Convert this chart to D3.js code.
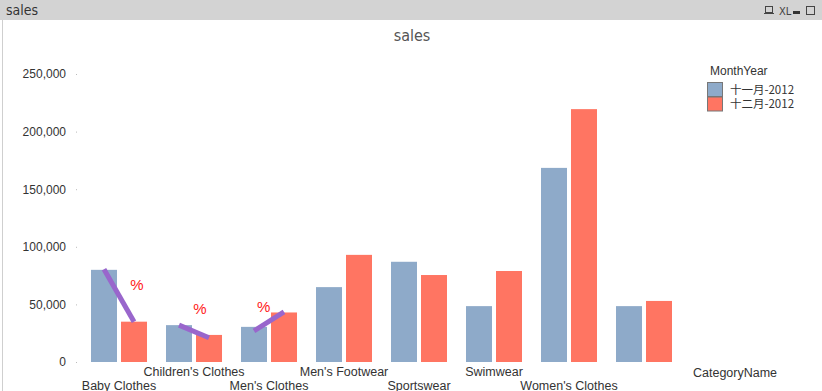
<!DOCTYPE html>
<html><head><meta charset="utf-8">
<script src="https://cdn.jsdelivr.net/npm/d3@7"></script>
<style>
html,body{margin:0;padding:0;background:#fff;}
svg text{font-family:"Liberation Sans",Arial,sans-serif;}
</style>
</head><body>
<svg id="c" width="822" height="391"></svg>
<script>
const categories = ["Baby Clothes","Children's Clothes","Men's Clothes","Men's Footwear","Sportswear","Swimwear","Women's Clothes",""];
const seriesNames = ["十一月-2012","十二月-2012"];
const novSales = [80000,32000,30500,65000,87000,48500,168500,48500];
const decSales = [35000,23500,43000,93000,75500,79000,219500,53000];
const yTicks = [0,50000,100000,150000,200000,250000];
const pctCategories = ["Baby Clothes","Children's Clothes","Men's Clothes"];
const pctLineStart = [80500,32000,27000];
const pctLineEnd = [35000,21000,43500];
const pctLabelValue = [62500,41500,43500];
const pctLabelBandPos = [0.74,0.58,0.43];

const colors = ["#8eaac9","#ff7562"];
const svg = d3.select("#c");
const W = 822, H = 391;

// window frame
svg.append("rect").attr("x",0).attr("y",0).attr("width",W).attr("height",20).attr("fill","#d3d3d3");
svg.append("line").attr("x1",2.5).attr("x2",2.5).attr("y1",20).attr("y2",H).attr("stroke","#cfcfcf");
svg.append("text").attr("x",6).attr("y",15).attr("font-size",14).attr("fill","#333")
  .style("font-family","'DejaVu Sans Condensed','Liberation Sans',sans-serif").text("sales");
// icons
const ic = svg.append("g").attr("fill","none").attr("stroke","#444");
ic.append("rect").attr("x",765.5).attr("y",6.5).attr("width",7).attr("height",6);
ic.append("line").attr("x1",764).attr("x2",774).attr("y1",13.5).attr("y2",13.5);
svg.append("text").attr("x",779).attr("y",15).attr("font-size",11).attr("fill","#444")
  .style("font-family","'DejaVu Sans Condensed',sans-serif").text("XL");
svg.append("rect").attr("x",793).attr("y",11).attr("width",7).attr("height",3).attr("fill","#333");
ic.append("rect").attr("x",806.5).attr("y",6.5).attr("width",8).attr("height",8);

// title
svg.append("text").attr("x",412).attr("y",41).attr("text-anchor","middle").attr("font-size",16)
  .attr("fill","#555").style("font-family","'DejaVu Sans Condensed','Liberation Sans',sans-serif").text("sales");

// scales
const y = d3.scaleLinear().domain([0,250000]).range([362,74]);
const x0 = d3.scaleBand().domain(categories).range([81.5,681.5]).paddingInner(0.2533).paddingOuter(0.1267);
const x1 = d3.scaleBand().domain(seriesNames).range([0,x0.bandwidth()]).paddingInner(0.1333);

// y axis
const yAxis = d3.axisLeft(y).tickValues(yTicks).tickSize(1).tickPadding(10).tickFormat(d3.format(","));
const ya = svg.append("g").attr("transform","translate(77,0)").call(yAxis);
ya.select(".domain").remove();
ya.selectAll(".tick line").attr("stroke","#bbb");
ya.selectAll(".tick text").attr("font-size",12).attr("fill","#333")
  .style("font-family","'Liberation Sans',Arial,sans-serif");

// bars
const data = categories.map((c,i)=>({cat:c, vals:[novSales[i],decSales[i]]}));
const g = svg.append("g");
data.forEach(d=>{
  d.vals.forEach((v,j)=>{
    g.append("rect").attr("x",x0(d.cat)+x1(seriesNames[j])).attr("width",x1.bandwidth())
      .attr("y",y(v)).attr("height",y(0)-y(v)).attr("fill",colors[j]);
  });
});

// category labels (staggered)
const xa = svg.append("g").attr("transform","translate(0,362)")
  .call(d3.axisBottom(x0).tickSize(0).tickPadding(0));
xa.select(".domain").remove();
xa.selectAll(".tick text").attr("font-size",12.5).attr("fill","#333").attr("dy",null)
  .attr("y",(d,i)=> i%2===0 ? 27.5 : 13.5).attr("dominant-baseline","auto")
  .style("font-family","'Liberation Sans',Arial,sans-serif");

svg.append("text").attr("x",693).attr("y",377).attr("font-size",12.5).attr("fill","#333").text("CategoryName");

// percent lines
pctCategories.forEach((c,i)=>{
  const xs = x0(c)+x1(seriesNames[0])+x1.bandwidth()/2;
  const xe = x0(c)+x1(seriesNames[1])+x1.bandwidth()/2;
  svg.append("line").attr("x1",xs).attr("y1",y(pctLineStart[i])).attr("x2",xe).attr("y2",y(pctLineEnd[i]))
    .attr("stroke","#9966cc").attr("stroke-width",5);
  svg.append("text").attr("x",x0(c)-x0.step()*x0.paddingOuter()+x0.step()*pctLabelBandPos[i])
    .attr("y",y(pctLabelValue[i])).attr("text-anchor","middle").attr("font-size",15).attr("fill","#ff1a1a").text("%");
});

// legend
svg.append("text").attr("x",710).attr("y",75).attr("font-size",12).attr("fill","#333").text("MonthYear");
seriesNames.forEach((s,j)=>{
  svg.append("rect").attr("x",707.5).attr("y",82.5+j*14.5).attr("width",15).attr("height",14)
    .attr("fill",colors[j]).attr("stroke","#777");
  svg.append("text").attr("x",730).attr("y",93.5+j*14.5).attr("font-size",11.5).attr("fill","#333")
    .style("font-family","'Noto Sans CJK SC','Liberation Sans',sans-serif").text(s);
});
</script>
</body></html>
